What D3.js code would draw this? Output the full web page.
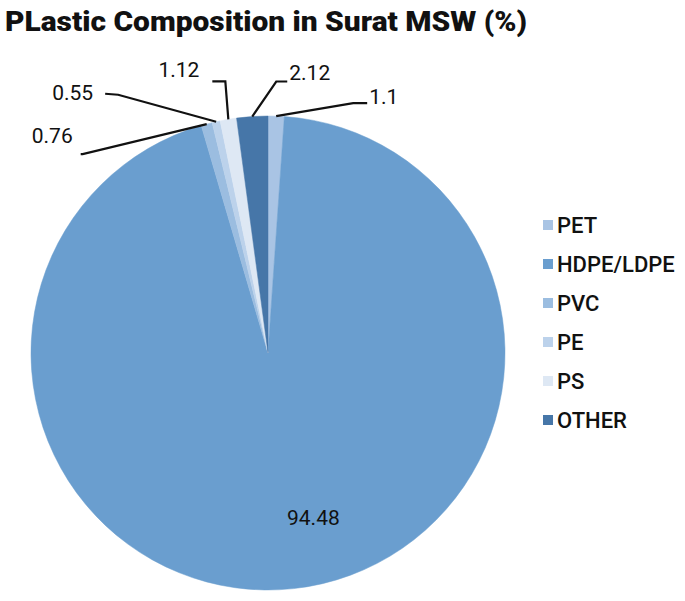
<!DOCTYPE html>
<html>
<head>
<meta charset="utf-8">
<script src="https://cdn.jsdelivr.net/npm/d3@7"></script>
<style>
  html, body { margin: 0; padding: 0; background: #fff; }
  svg { display: block; }
</style>
</head>
<body>
<svg id="chart" width="685" height="601"></svg>
<script>
// ---- data ----
const categories = ["PET", "HDPE/LDPE", "PVC", "PE", "PS", "OTHER"];
const values = [1.1, 94.48, 0.76, 0.55, 1.12, 2.12];
const valueLabels = ["1.1", "94.48", "0.76", "0.55", "1.12", "2.12"];
const title = "PLastic Composition in Surat MSW (%)";

// ---- styles / layout ----
const colors = ["#a9c4e4", "#6a9ecf", "#9bbde0", "#bcd2eb", "#dee8f4", "#4676a8"];
const W = 685, H = 601;
const cx = 268, cy = 353, R = 237;
// leader layout: elbow offset & label offset relative to slice edge point (null = inside label)
const leaderLayout = [
  { elbow: [77, -13], end: [91, -13], label: [93, -12], anchor: "start" },
  null,
  { elbow: [-124, 30], end: [-126, 30], label: [-134, 19], anchor: "end" },
  { elbow: [-98, -27], end: [-111, -28], label: [-123, -22], anchor: "end" },
  { elbow: [-3, -38], end: [-16, -38], label: [-29, -42], anchor: "end" },
  { elbow: [24, -35], end: [35, -35], label: [37, -37], anchor: "start" }
];

const svg = d3.select("#chart");

const titleText = svg.append("text")
  .attr("x", 5).attr("y", 31)
  .attr("font-family", "Roboto, sans-serif")
  .attr("font-weight", 900)
  .attr("font-size", 27)
  .attr("fill", "#111")
  .attr("textLength", 522)
  .attr("lengthAdjust", "spacingAndGlyphs")
  .text(title);

const data = categories.map((c, i) => ({ cat: c, value: values[i], label: valueLabels[i], color: colors[i], i }));

const pie = d3.pie().sort(null).value(d => d.value);
const arcs = pie(data);
const arc = d3.arc().innerRadius(0).outerRadius(R);
const edgeArc = d3.arc().innerRadius(R).outerRadius(R);

const g = svg.append("g").attr("transform", `translate(${cx},${cy})`);

g.selectAll("path.slice")
  .data(arcs)
  .join("path")
  .attr("class", "slice")
  .attr("d", arc)
  .attr("fill", d => d.data.color)
  .attr("stroke", d => d.data.color)
  .attr("stroke-width", 0.5);

// leader lines & labels
arcs.forEach((a, i) => {
  const lay = leaderLayout[i];
  if (!lay) {
    // inside label for the big slice
    const mid = (a.startAngle + a.endAngle) / 2;
    const rr = R * 0.75;
    const ang = mid - 0.15;
    g.append("text")
      .attr("x", Math.sin(ang) * rr)
      .attr("y", -Math.cos(ang) * rr)
      .attr("text-anchor", "middle")
      .attr("font-family", "Roboto, sans-serif")
      .attr("font-size", 21)
      .attr("fill", "#111")
      .text(a.data.label);
    return;
  }
  const p = edgeArc.centroid(a);
  const e = [p[0] + lay.elbow[0], p[1] + lay.elbow[1]];
  const t = [p[0] + lay.end[0], p[1] + lay.end[1]];
  g.append("polyline")
    .attr("points", [p, e, t].map(q => q.join(",")).join(" "))
    .attr("fill", "none")
    .attr("stroke", "#111")
    .attr("stroke-width", 2.2);
  g.append("text")
    .attr("x", p[0] + lay.label[0])
    .attr("y", p[1] + lay.label[1])
    .attr("text-anchor", lay.anchor)
    .attr("font-family", "Roboto, sans-serif")
    .attr("font-size", 21)
    .attr("fill", "#111")
    .text(a.data.label);
});

// legend
const legend = svg.append("g").attr("transform", "translate(543,225)");
const ly = d3.scalePoint().domain(categories).range([0, 195]);
const items = legend.selectAll("g.item").data(data).join("g")
  .attr("class", "item")
  .attr("transform", d => `translate(0,${ly(d.cat)})`);
items.append("rect")
  .attr("x", 0).attr("y", -5).attr("width", 10).attr("height", 10)
  .attr("fill", d => d.color);
items.append("text")
  .attr("x", 14).attr("y", 0)
  .attr("dy", "0.36em")
  .attr("font-family", "Roboto, sans-serif")
  .attr("font-weight", 500)
  .attr("font-size", 22)
  .attr("fill", "#111")
  .text(d => d.cat);
</script>
</body>
</html>
